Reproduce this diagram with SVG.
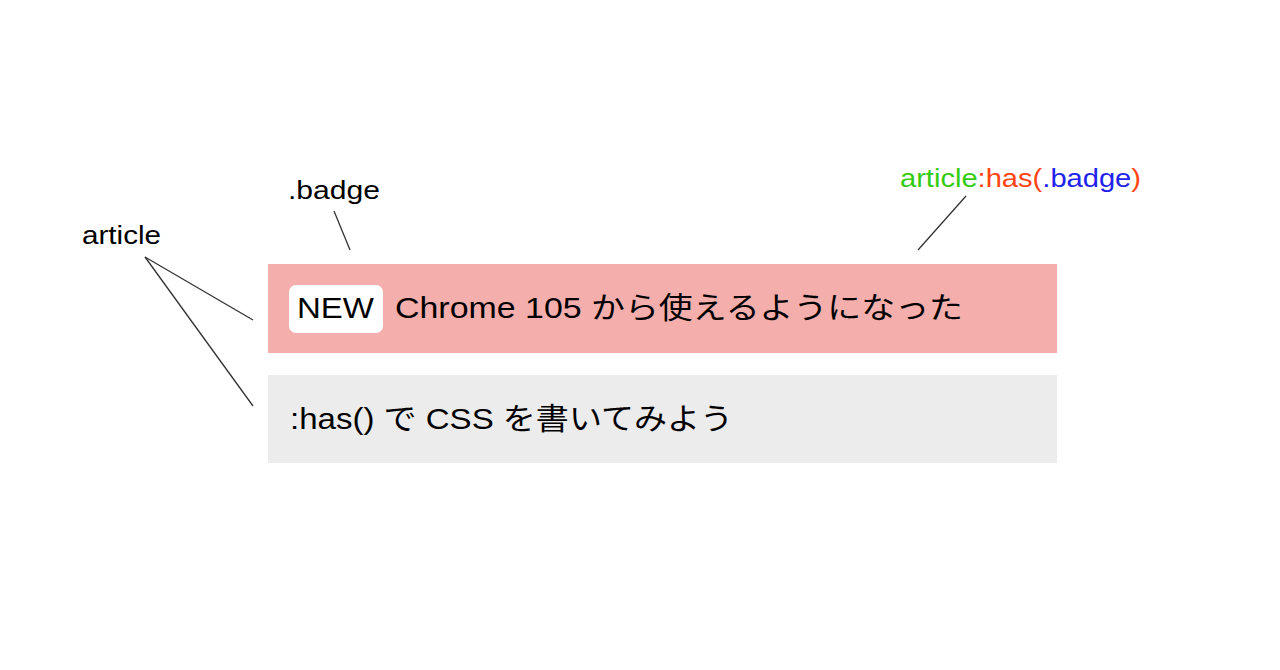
<svg xmlns="http://www.w3.org/2000/svg" width="1280" height="670" viewBox="0 0 1280 670">
<style>
.t{font-family:"Liberation Sans","Noto Sans CJK JP",sans-serif;fill:#000}
.lbl{font-size:25px}
.big{font-size:30px}
.ln{stroke:#333;stroke-width:1.3;fill:none}
</style>
<rect width="1280" height="670" fill="#fff"/>
<g id="article-new">
<rect x="268" y="264" width="789" height="89" fill="#f4aeab"/>
<g id="badge">
<rect x="289" y="285" width="94" height="48" rx="7" fill="#fff"/>
<text class="t big" x="297" y="318" textLength="77" lengthAdjust="spacingAndGlyphs">NEW</text>
</g>
<text class="t big" x="395" y="318" textLength="568" lengthAdjust="spacingAndGlyphs">Chrome 105 から使えるようになった</text>
</g>
<g id="article-has">
<rect x="268" y="375" width="789" height="88" fill="#ececec"/>
<text class="t big" x="290" y="429" textLength="443" lengthAdjust="spacingAndGlyphs">:has() で CSS を書いてみよう</text>
</g>
<g id="label-article">
<text class="t lbl" x="82" y="244" textLength="79" lengthAdjust="spacingAndGlyphs">article</text>
</g>
<g id="label-badge">
<text class="t lbl" x="288" y="199" textLength="92" lengthAdjust="spacingAndGlyphs">.badge</text>
</g>
<g id="label-selector">
<text class="t lbl" x="900" y="187" textLength="241" lengthAdjust="spacingAndGlyphs"><tspan fill="#33cc11">article</tspan><tspan fill="#ff4411">:has(</tspan><tspan fill="#2222ee">.badge</tspan><tspan fill="#ff4411">)</tspan></text>
</g>
<g id="connectors">
<line class="ln" x1="145" y1="257" x2="253" y2="320"/>
<line class="ln" x1="145" y1="257" x2="253" y2="406"/>
<line class="ln" x1="334" y1="211" x2="350" y2="250"/>
<line class="ln" x1="966" y1="196" x2="918" y2="250"/>
</g>
</svg>
